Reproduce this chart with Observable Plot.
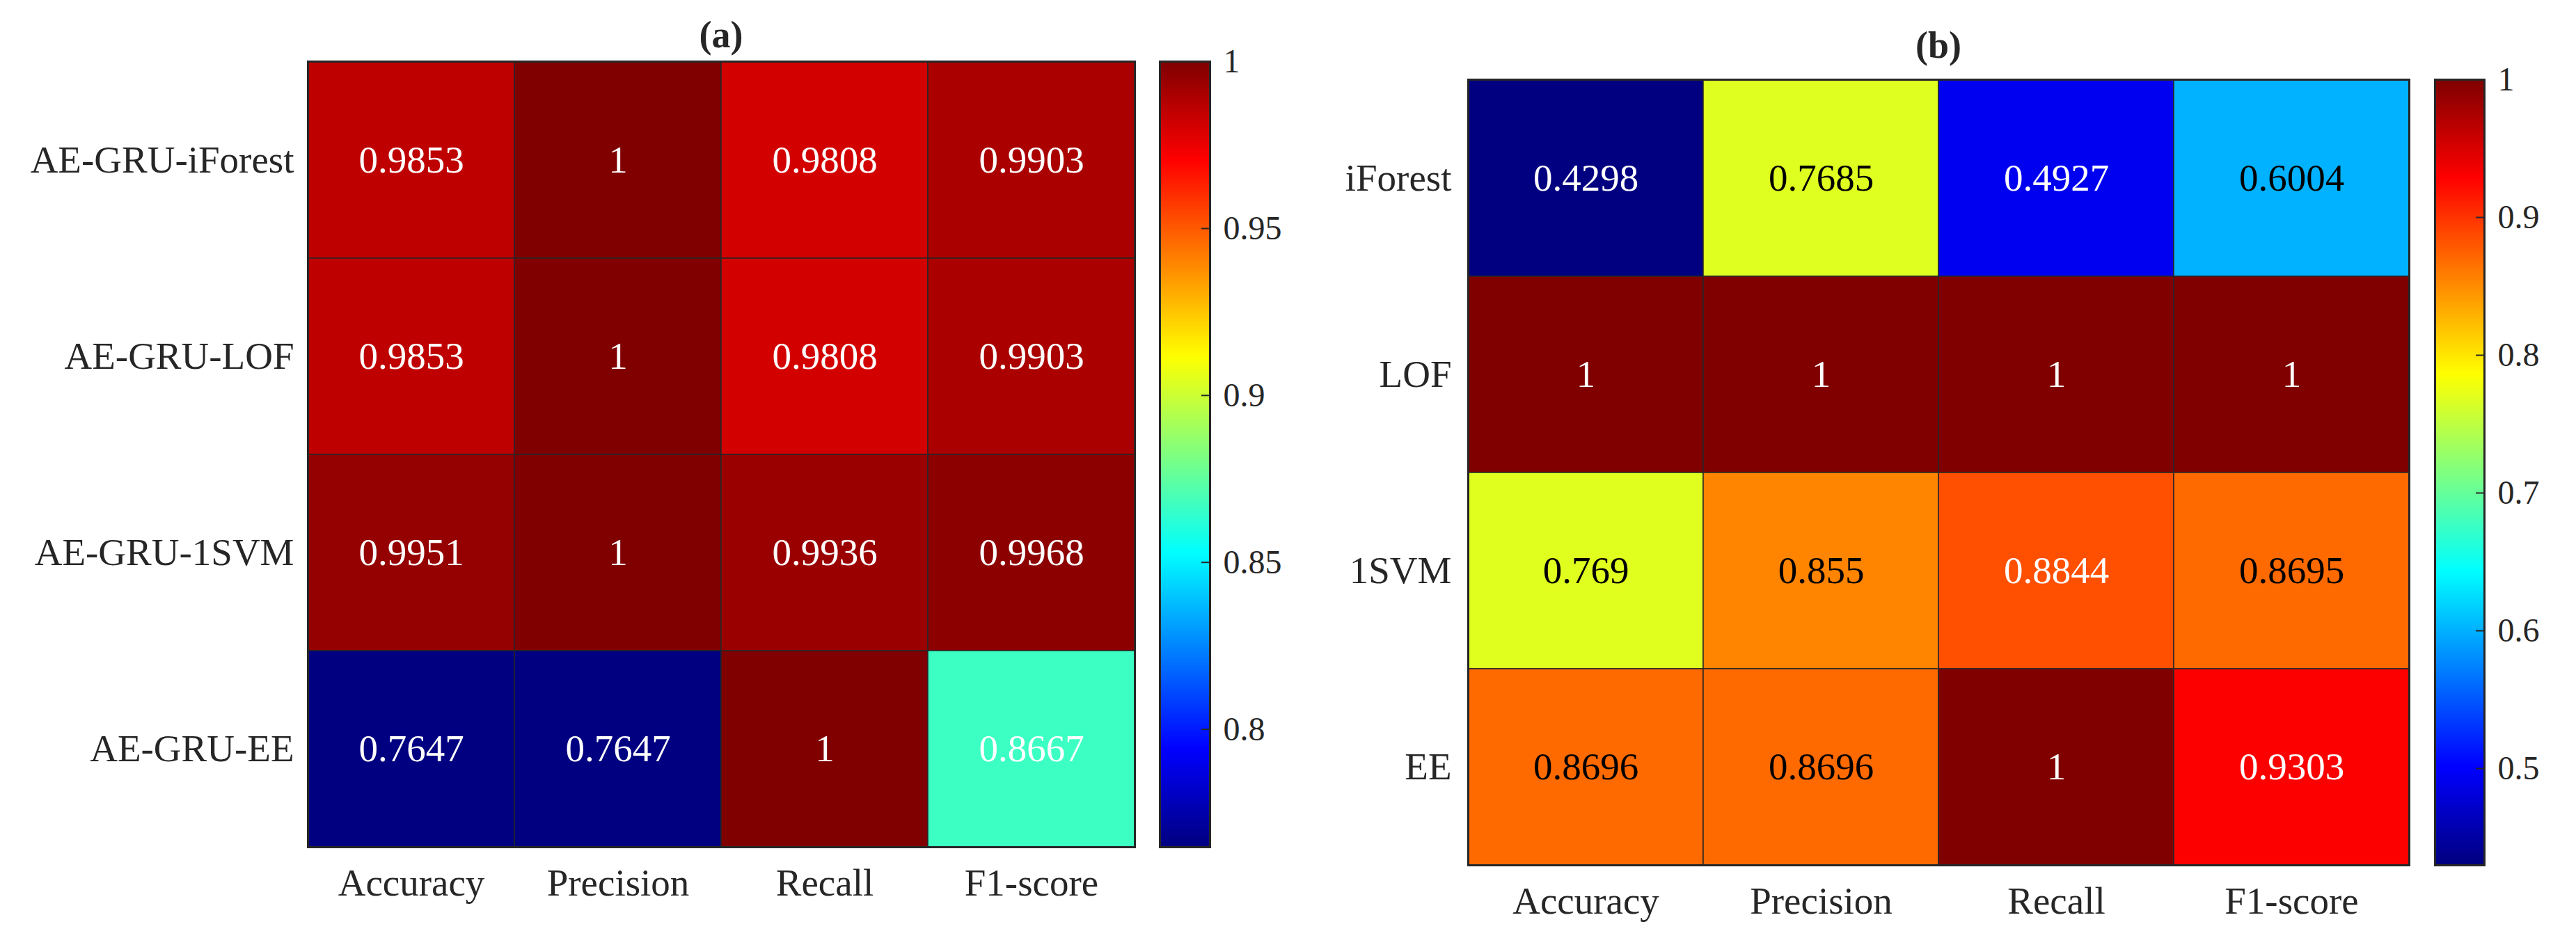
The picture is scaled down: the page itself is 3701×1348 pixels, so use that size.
<!DOCTYPE html>
<html>
<head>
<meta charset="utf-8">
<script src="https://cdn.jsdelivr.net/npm/d3@7"></script>
<script src="https://cdn.jsdelivr.net/npm/@observablehq/plot@0.6"></script>
<style>
  html, body { margin: 0; padding: 0; background: #ffffff; }
  #root { position: relative; width: 3701px; height: 1348px; overflow: hidden; background: #ffffff; font-family: "Liberation Serif", serif; }
  #root svg, #root svg text { font-family: "Liberation Serif", serif; }
  .part { position: absolute; top: 0; }
  .title { position: absolute; font-family: "Liberation Serif", serif; font-weight: bold; font-size: 54px; color: #262626; transform: translate(-50%, -50%); white-space: nowrap; }
</style>
</head>
<body>
<div id="root"></div>
<script>
// ---------------- data ----------------
const metrics = ["Accuracy", "Precision", "Recall", "F1-score"];

const modelsA = ["AE-GRU-iForest", "AE-GRU-LOF", "AE-GRU-1SVM", "AE-GRU-EE"];
const valuesA = [
  [0.9853, 1, 0.9808, 0.9903],
  [0.9853, 1, 0.9808, 0.9903],
  [0.9951, 1, 0.9936, 0.9968],
  [0.7647, 0.7647, 1, 0.8667]
];
const ticksA = [0.8, 0.85, 0.9, 0.95, 1];

const modelsB = ["iForest", "LOF", "1SVM", "EE"];
const valuesB = [
  [0.4298, 0.7685, 0.4927, 0.6004],
  [1, 1, 1, 1],
  [0.769, 0.855, 0.8844, 0.8695],
  [0.8696, 0.8696, 1, 0.9303]
];
const ticksB = [0.5, 0.6, 0.7, 0.8, 0.9, 1];

const titleA = "(a)";
const titleB = "(b)";

// ---------------- helpers ----------------
const clamp01 = v => Math.max(0, Math.min(1, v));
function jetRGB(t) {
  return [clamp01(1.5 - Math.abs(4 * t - 3)), clamp01(1.5 - Math.abs(4 * t - 2)), clamp01(1.5 - Math.abs(4 * t - 1))];
}
function jet(t) {
  const [r, g, b] = jetRGB(t);
  return `rgb(${Math.round(r * 255)},${Math.round(g * 255)},${Math.round(b * 255)})`;
}

const FONT = "'Liberation Serif', serif";
const INK = "#262626";

function panel(cfg) {
  const {models, values, ticks, title, autoLabelColor, left, width, marginLeft, marginTop, marginBottom, yPad,
         cbLeft, cbWidth, cbMarginLeft, cbMarginRight, titleX, titleY} = cfg;
  const cells = models.flatMap((m, i) => metrics.map((k, j) => ({model: m, metric: k, value: values[i][j]})));
  const [lo, hi] = d3.extent(cells, d => d.value);
  const isLight = d => {
    if (!autoLabelColor) return false;
    const [r, g, b] = jetRGB((d.value - lo) / (hi - lo));
    return 0.2989 * r + 0.587 * g + 0.114 * b > 0.5;
  };
  const color = {type: "linear", domain: [lo, hi], interpolate: jet};

  const heat = Plot.plot({
    width, height: 1348,
    marginLeft, marginRight: 20, marginTop, marginBottom,
    style: {fontFamily: FONT, fontSize: "55px", color: INK, background: "transparent", overflow: "visible"},
    x: {domain: metrics, label: null, padding: 0},
    y: {domain: models, label: null, padding: 0},
    color,
    marks: [
      Plot.cell(cells, {x: "metric", y: "model", fill: "value", stroke: INK, strokeWidth: 1.5}),
      Plot.text(cells.filter(d => !isLight(d)), {x: "metric", y: "model", text: d => String(d.value), fill: "white", fontSize: 55, fontFamily: FONT}),
      Plot.text(cells.filter(isLight), {x: "metric", y: "model", text: d => String(d.value), fill: "black", fontSize: 55, fontFamily: FONT}),
      Plot.axisX({anchor: "bottom", tickSize: 0, tickPadding: 30, label: null, fontSize: 55, fontFamily: FONT}),
      Plot.axisY({anchor: "left", tickSize: 0, tickPadding: yPad, label: null, fontSize: 55, fontFamily: FONT}),
      Plot.frame({stroke: INK, strokeWidth: 3})
    ]
  });
  heat.classList.add("part");
  heat.style.left = left + "px";

  const cb = Plot.plot({
    width: cbWidth, height: 1348,
    marginLeft: cbMarginLeft, marginRight: cbMarginRight, marginTop, marginBottom,
    style: {fontFamily: FONT, fontSize: "48px", color: INK, background: "transparent", overflow: "visible"},
    x: {domain: [0, 1], axis: null},
    y: {domain: [lo, hi], label: null},
    color,
    marks: [
      Plot.raster({x1: 0, x2: 1, y1: lo, y2: hi, width: 1, height: 512, fill: (x, y) => y, imageRendering: "auto"}),
      Plot.tickY(ticks, {y: d => d, stroke: INK, strokeWidth: 2, insetLeft: cbWidth - cbMarginLeft - cbMarginRight - 12}),
      Plot.axisY(ticks, {anchor: "right", tickSize: 0, tickPadding: 19, label: null, tickFormat: d => String(d), fontSize: 48, fontFamily: FONT}),
      Plot.frame({stroke: INK, strokeWidth: 3})
    ]
  });
  cb.classList.add("part");
  cb.style.left = cbLeft + "px";

  const t = document.createElement("div");
  t.className = "title";
  t.textContent = title;
  t.style.left = titleX + "px";
  t.style.top = titleY + "px";

  const root = document.getElementById("root");
  root.appendChild(heat);
  root.appendChild(cb);
  root.appendChild(t);
}

panel({
  models: modelsA, values: valuesA, ticks: ticksA, title: titleA, autoLabelColor: false,
  left: 0, width: 1650, marginLeft: 442, marginTop: 88, marginBottom: 131, yPad: 20,
  cbLeft: 1600, cbWidth: 300, cbMarginLeft: 66, cbMarginRight: 162,
  titleX: 1036, titleY: 50
});

panel({
  models: modelsB, values: valuesB, ticks: ticksB, title: titleB, autoLabelColor: true,
  left: 1850, width: 1631, marginLeft: 259, marginTop: 114, marginBottom: 105, yPad: 24,
  cbLeft: 3400, cbWidth: 301, cbMarginLeft: 98, cbMarginRight: 132,
  titleX: 2785, titleY: 65
});
</script>
</body>
</html>
